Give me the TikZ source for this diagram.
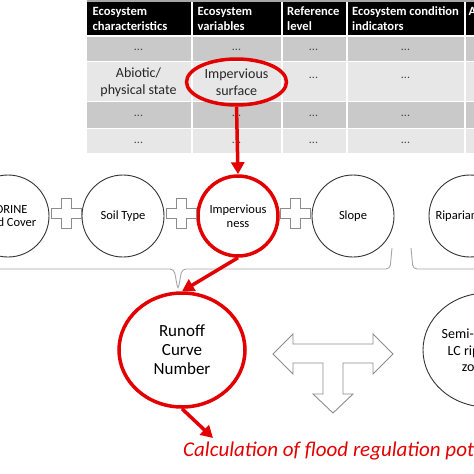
\documentclass[tikz,border=0pt]{standalone}
\usepackage{fontspec}
\setmainfont{Carlito}
\usetikzlibrary{shapes.geometric,arrows.meta}
\definecolor{myred}{RGB}{226,0,0}
\definecolor{rowdark}{RGB}{201,201,201}
\definecolor{rowlight}{RGB}{231,231,231}
\definecolor{bracegray}{RGB}{165,165,165}
\definecolor{outlinegray}{RGB}{140,140,140}
\definecolor{dotgray}{RGB}{70,70,70}
\begin{document}
\begin{tikzpicture}[x=1pt,y=-1pt,
  hdr/.style={anchor=west, text=white, font=\bfseries\fontsize{12.6}{15}\selectfont, align=left, inner sep=0},
  cell/.style={text=black!85, font=\fontsize{14}{17}\selectfont, align=center, inner sep=0},
  dots/.style={text=dotgray, font=\fontsize{12}{13}\selectfont, inner sep=0},
  cnode/.style={circle, draw=black!80, line width=0.9, minimum size=82, inner sep=0, align=center, font=\fontsize{12.5}{13.5}\selectfont},
  redarrow/.style={draw=myred, line width=3.5, -{Triangle[length=12pt,width=13pt]}},
  plusshape/.pic={\draw[outlinegray, fill=white, line width=0.8] (-5,-15) -- (5,-15) -- (5,-5) -- (15,-5) -- (15,5) -- (5,5) -- (5,15) -- (-5,15) -- (-5,5) -- (-15,5) -- (-15,-5) -- (-5,-5) -- cycle;}
]
\useasboundingbox (0,0) rectangle (474,474);
\clip (0,0) rectangle (474,474);
% table
\fill[black!35] (87,0) rectangle (480,1.5);
\foreach \xa/\xb in {87/190.5,192.5/280.5,282.5/345.5,347.5/463.5,465.5/480}{
  \fill[black] (\xa,2) rectangle (\xb,35);
  \fill[rowdark] (\xa,37) rectangle (\xb,60.5);
  \fill[rowlight] (\xa,62) rectangle (\xb,100.5);
  \fill[rowdark] (\xa,102) rectangle (\xb,127.5);
  \fill[rowlight] (\xa,129) rectangle (\xb,153);
}
\node[hdr] (h1) at (92.5,18.5) {Ecosystem\\characteristics};
\node[hdr] (h2) at (197.5,18.5) {Ecosystem\\variables};
\node[hdr] (h3) at (287,18.5) {Reference\\level};
\node[hdr] (h4) at (352,18.5) {Ecosystem condition\\indicators};
\node[hdr] (h5) at (468.5,11) {A};
% row 1
\node[dots] (r1a) at (138.5,50) {...};
\node[dots] (r1b) at (236.5,50) {...};
\node[dots] (r1c) at (313.5,50) {...};
\node[dots] (r1d) at (405.5,50) {...};
% row 2
\node[cell] (r2a) at (138.5,82) {Abiotic/\\physical state};
\node[ellipse, draw=myred, line width=3.5, minimum width=100, minimum height=46, cell] (impsurf) at (236.5,82) {Impervious\\surface};
\node[dots] (r2c) at (313.5,78) {...};
\node[dots] (r2d) at (405.5,78) {...};
% row 3
\node[dots] (r3a) at (138.5,116) {...};
\node[dots] (r3b) at (236.5,116) {...};
\node[dots] (r3c) at (313.5,116) {...};
\node[dots] (r3d) at (405.5,116) {...};
% row 4
\node[dots] (r4a) at (138.5,143) {...};
\node[dots] (r4b) at (236.5,143) {...};
\node[dots] (r4c) at (313.5,143) {...};
\node[dots] (r4d) at (405.5,143) {...};
% circles
\node[cnode] (corine) at (8,216) {CORINE\\Land Cover};
\node[cnode] (soil) at (123,216) {Soil Type};
\node[cnode, draw=myred, line width=3.5, minimum size=80] (imp) at (238,216) {Impervious\\ness};
\node[cnode] (slope) at (353,216) {Slope};
\node[cnode] (rip) at (470,216) {Riparian zone};
\pic at (66,213) {plusshape};
\pic at (181,213) {plusshape};
\pic at (295,213) {plusshape};
% braces
\draw[bracegray, line width=0.9, rounded corners=4] (392,248) -- (390,269) -- (182,269) -- (178,290) -- (174,269) -- (-10,269);
\draw[bracegray, line width=0.9, rounded corners=4] (411,248) -- (413,269) -- (480,269);
% lower nodes
\node[ellipse, draw=myred, line width=3.5, minimum width=126, minimum height=114, align=center, font=\fontsize{17}{19}\selectfont, inner sep=0] (runoff) at (182,350) {Runoff\\Curve\\Number};
\node[ellipse, draw=black!80, line width=0.9, minimum width=128, minimum height=114] (semi) at (487,350) {};
\node[align=center, font=\fontsize{14}{16.5}\selectfont, inner sep=0] (semitext) at (478,350.5) {Semi-natural\\LC riparian\\zones};
% T arrow
\draw[outlinegray, fill=white, line width=0.9] (273,354) -- (293,334) -- (293,344) -- (373,344) -- (373,334) -- (393,354) -- (373,374) -- (373,363) -- (343,363) -- (343,394) -- (353,394) -- (333,413) -- (313,394) -- (323,394) -- (323,363) -- (293,363) -- (293,374) -- cycle;
% red arrows
\draw[redarrow] (impsurf.south) -- (imp.north);
\draw[redarrow] (imp.south) -- (runoff.north);
\coordinate (calcpt) at (213,438);
\draw[redarrow] (runoff.south) -- (calcpt);
\node[anchor=base west, text=myred, font=\itshape\fontsize{21}{24}\selectfont, inner sep=0] (calc) at (183,456) {Calculation of flood regulation potential};
\end{tikzpicture}
\end{document}
